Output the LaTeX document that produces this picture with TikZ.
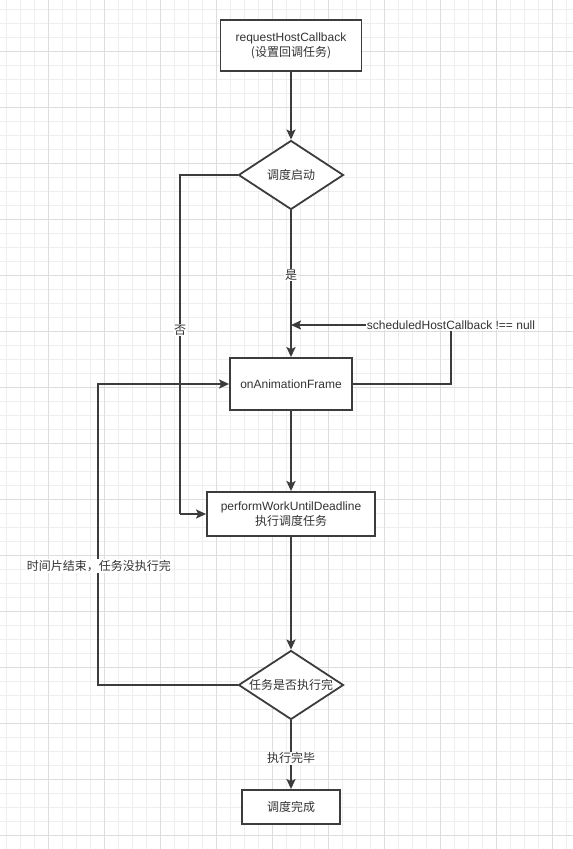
\documentclass[tikz,border=0pt]{standalone}
\usepackage{fontspec}
\setmainfont{Liberation Sans}
\newfontfamily\cjk{Noto Sans CJK SC}
\usetikzlibrary{shapes.geometric,arrows.meta,calc}
\definecolor{ln}{HTML}{3C3C3C}
\definecolor{tx}{HTML}{333333}
\definecolor{gfine}{HTML}{EEEEEE}
\definecolor{gmaj}{HTML}{DDDDDD}
\tikzset{
  box/.style={draw=ln, line width=1.8pt, fill=white, rectangle, inner sep=0pt, align=center, text=tx, font=\fontsize{12}{15}\selectfont},
  dia/.style={draw=ln, line width=1.8pt, fill=white, diamond, shape aspect=1.5, inner sep=0pt, minimum width=105, minimum height=69, text=tx, font=\fontsize{12}{15}\selectfont\cjk},
  conn/.style={draw=ln, line width=1.8pt},
  arr/.style={conn, -{Stealth[length=10pt,width=9pt,inset=2pt]}},
  lbl/.style={fill=white, inner sep=1pt, text=tx, font=\fontsize{12}{15}\selectfont}
}
\begin{document}
\begin{tikzpicture}[x=1pt,y=-1pt]
\useasboundingbox (0,0) rectangle (573,849);
\fill[white] (0,0) rectangle (573,849);
% grid
\foreach \k in {0,...,40}{\draw[gfine, line width=0.8pt] ({6.3+14*\k},0) -- ({6.3+14*\k},849);}
\foreach \k in {0,...,59}{\draw[gfine, line width=0.8pt] (0,{9.3+14*\k}) -- (573,{9.3+14*\k});}
\foreach \k in {0,...,9}{\draw[gmaj, line width=0.9pt] ({48.3+56*\k},0) -- ({48.3+56*\k},849);}
\foreach \k in {0,...,14}{\draw[gmaj, line width=0.9pt] (0,{51.3+56*\k}) -- (573,{51.3+56*\k});}

% nodes
\node[box, minimum width=141, minimum height=51] (b1) at (291,45.7) {requestHostCallback\\{\cjk (设置回调任务)}};
\node[dia] (d1) at (291,175) {调度启动};
\node[box, minimum width=122, minimum height=52] (b2) at (291,384) {onAnimationFrame};
\node[box, minimum width=168, minimum height=44] (b3) at (291,514) {performWorkUntilDeadline\\{\cjk 执行调度任务}};
\node[dia] (d2) at (291,685) {任务是否执行完};
\node[box, minimum width=98, minimum height=34, font=\fontsize{12}{15}\selectfont\cjk] (b4) at (291,807) {调度完成};

\node[lbl] (s) at (451,325) {scheduledHostCallback !== null};
\coordinate (sj) at (291,325);
\coordinate (nx) at (180,0);
\coordinate (lx) at (98,0);
\coordinate (rx) at (451,0);

% connectors
\draw[arr] (b1.south) -- (d1.north);
\draw[arr] (d1.south) -- node[lbl, pos=0.44, font=\fontsize{12}{15}\selectfont\cjk] {是} (b2.north);
\draw[conn] (d1.west) -- (d1.west -| nx) -- (b3.west -| nx);
\draw[arr] (b3.west -| nx) -- (b3.west);
\node[lbl, font=\fontsize{12}{15}\selectfont\cjk] at (180,330) {否};
\draw[arr] (s.west) -- (sj);
\draw[conn] (b2.east) -- (b2.east -| rx) -- (s.south);
\draw[arr] (b2.south) -- (b3.north);
\draw[arr] (b3.south) -- (d2.north);
\draw[arr] (d2.south) -- node[lbl, pos=0.55, font=\fontsize{12}{15}\selectfont\cjk] {执行完毕} (b4.north);
\draw[arr] (d2.west) -- (d2.west -| lx) -- (b2.west -| lx) -- (b2.west);
\node[lbl, font=\fontsize{12}{15}\selectfont\cjk] at (99,566) {时间片结束，任务没执行完};
\end{tikzpicture}
\end{document}
